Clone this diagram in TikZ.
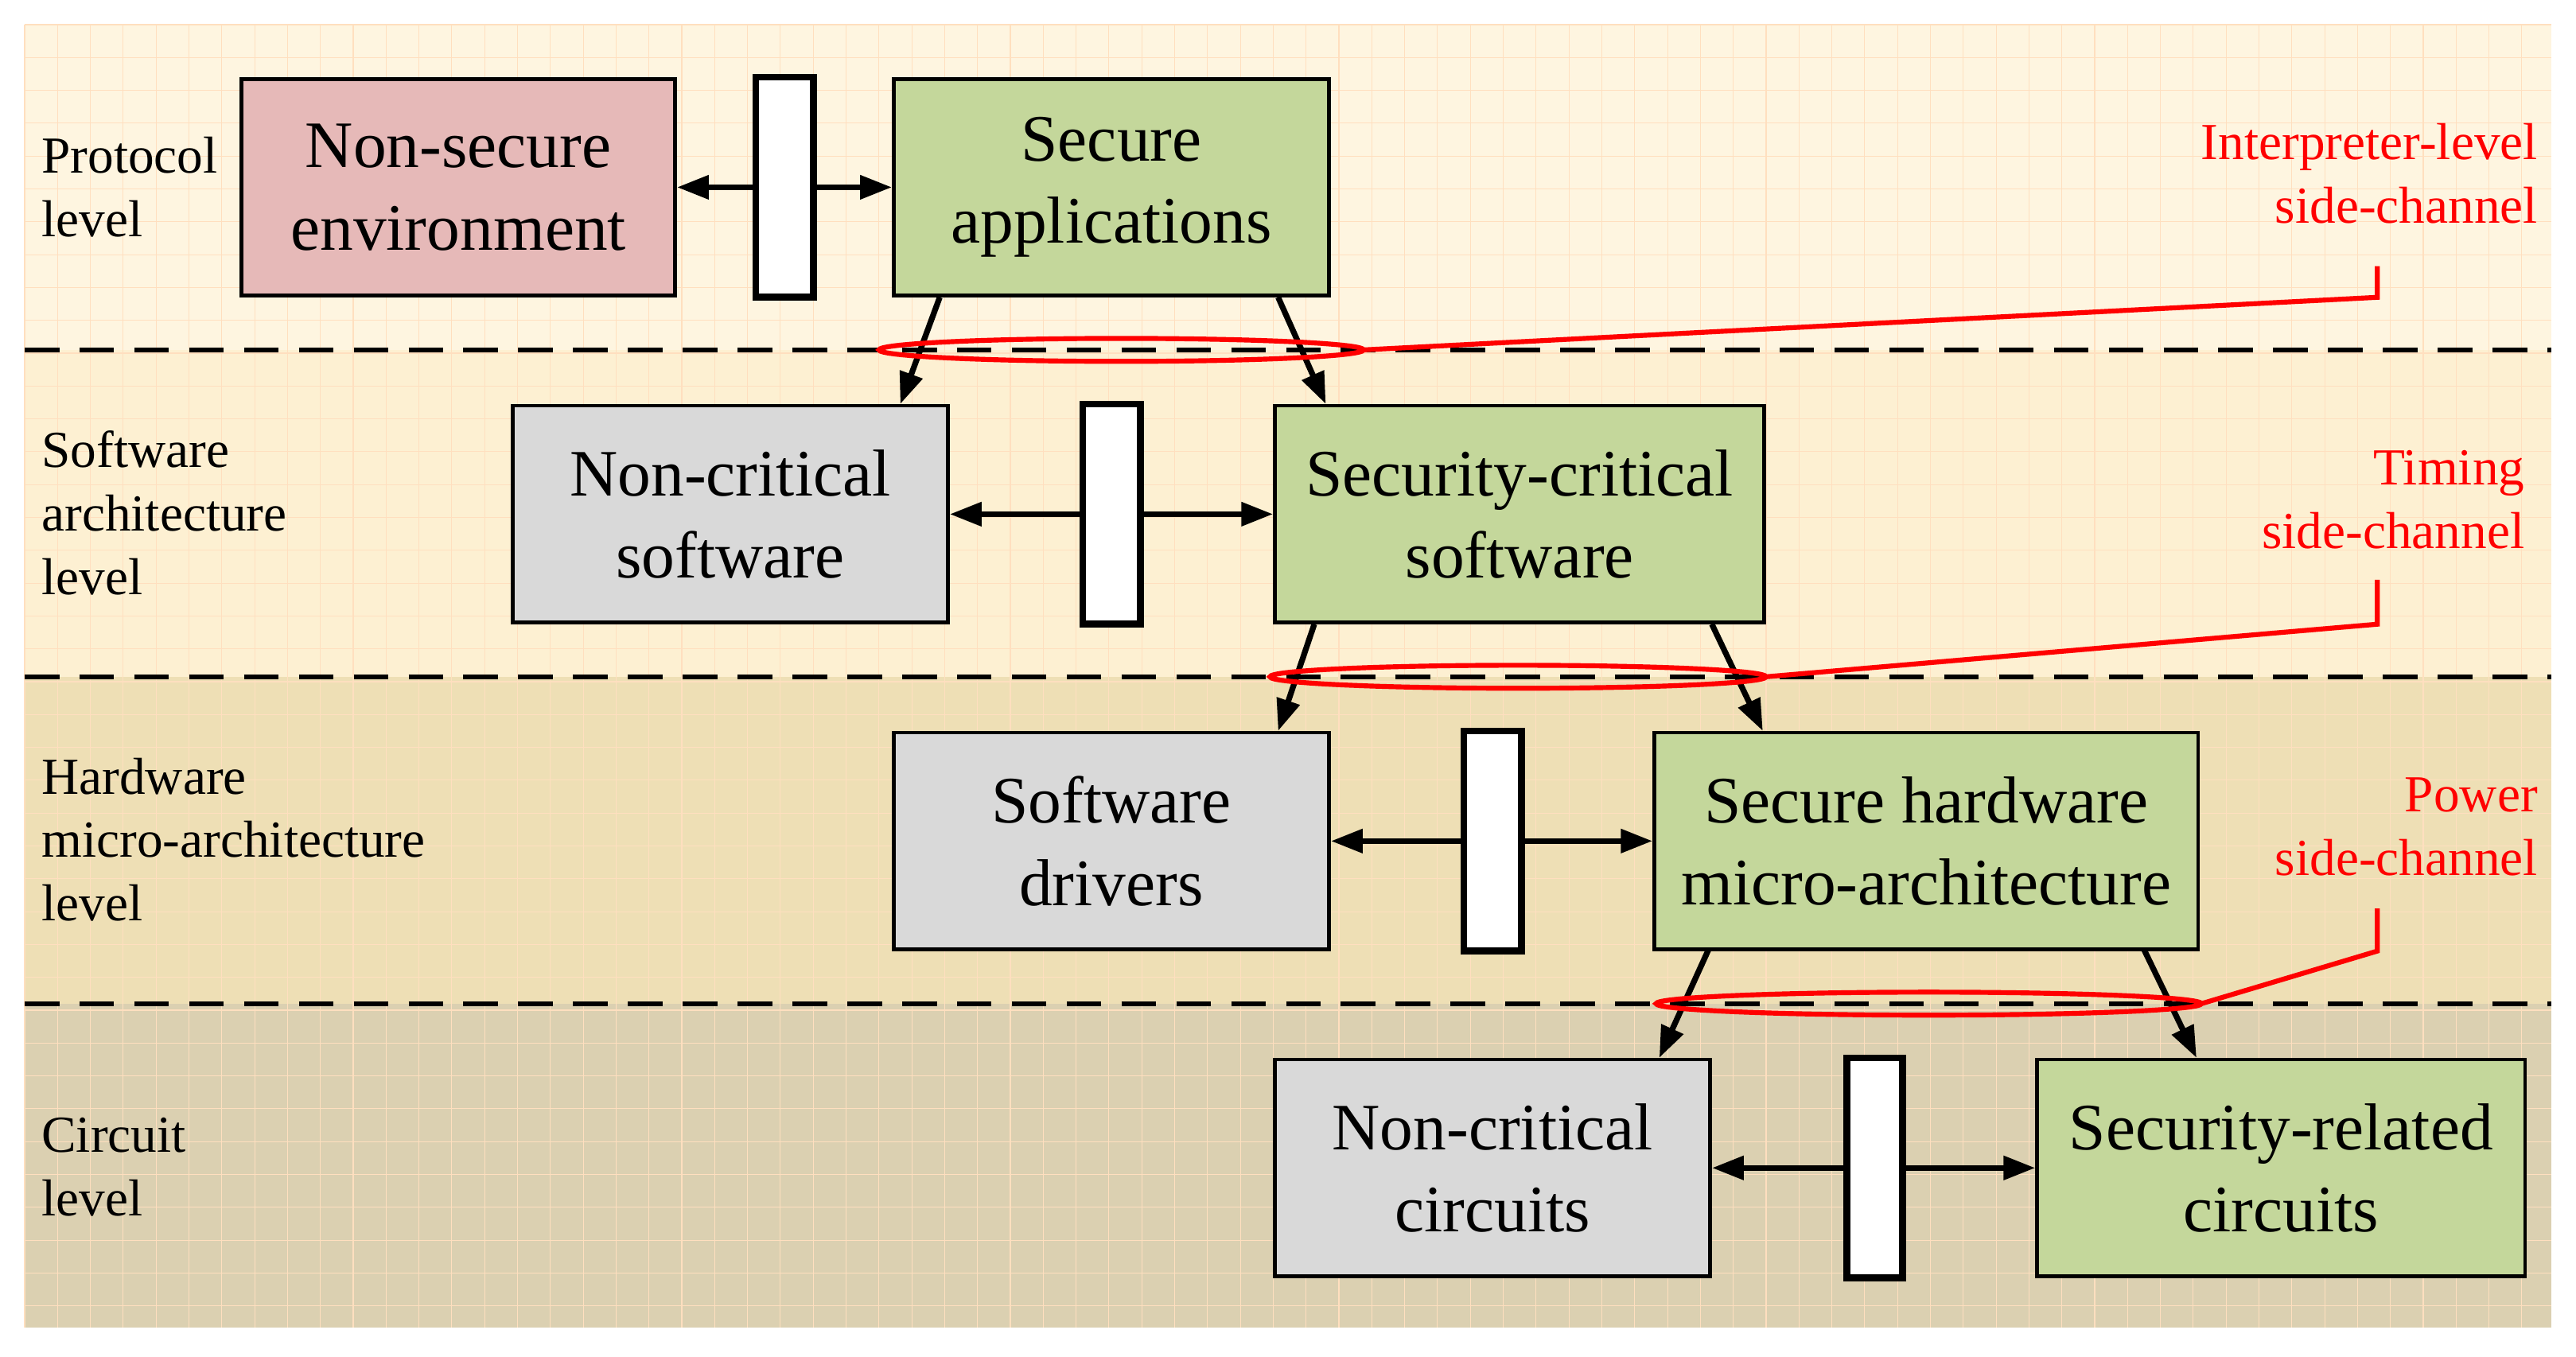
\documentclass[tikz,border=0pt]{standalone}
\usepackage{fontspec}
\setmainfont{Liberation Serif}
\usetikzlibrary{arrows.meta}
\definecolor{bA}{HTML}{FEF5E0}
\definecolor{bB}{HTML}{FDF0D2}
\definecolor{bC}{HTML}{EEDFB5}
\definecolor{bD}{HTML}{DBD0B1}
\definecolor{pinkb}{HTML}{E6B9B8}
\definecolor{greenb}{HTML}{C4D79B}
\definecolor{grayb}{HTML}{D9D9D9}
\begin{document}
\begin{tikzpicture}[x=0.02cm,y=-0.02cm,
  box/.style={draw=black,line width=1.3pt,align=center,inner sep=0pt,font=\fontsize{23}{28.5}\selectfont,execute at begin node={\vspace*{5pt}}},
  bar/.style={draw=black,fill=white,line width=2.4pt},
  arr/.style={line width=2pt,-{Triangle[length=11pt,width=8pt]}},
  darr/.style={line width=2pt,{Triangle[length=11pt,width=8pt]}-{Triangle[length=11pt,width=8pt]}},
  lvl/.style={anchor=north west,align=left,inner sep=0pt,font=\fontsize{18}{22}\selectfont},
  red/.style={anchor=north east,align=right,inner sep=0pt,text=red,font=\fontsize{18}{22}\selectfont},
  rl/.style={draw=red,line width=1.7pt},
  sep/.style={line width=1.8pt,dash pattern=on 12pt off 7pt}]
\useasboundingbox (0,0) rectangle (1568,826);
\fill[white] (0,0) rectangle (1568,826);
\fill[bA] (15,15) rectangle (1553,213);
\fill[bB] (15,213) rectangle (1553,412);
\fill[bC] (15,412) rectangle (1553,611);
\fill[bD] (15,611) rectangle (1553,808);
\foreach \x in {15,35,...,1553} {\draw[orange!25,line width=0.3pt] (\x,15) -- (\x,808);}
\foreach \y in {15,35,...,808} {\draw[orange!25,line width=0.3pt] (15,\y) -- (1553,\y);}
\draw[sep] (15,213) -- (1553,213);
\draw[sep] (15,412) -- (1553,412);
\draw[sep] (15,611) -- (1553,611);
% level labels
\node[lvl] (l1) at (25,83) {Protocol\\level};
\node[lvl] (l2) at (25,262) {Software\\architecture\\level};
\node[lvl] (l3) at (25,461) {Hardware\\micro-architecture\\level};
\node[lvl] (l4) at (25,680) {Circuit\\level};
% boxes
\node[box,fill=pinkb,minimum width=5.28cm,minimum height=2.64cm] (nse) at (279,114) {Non-secure\\environment};
\node[box,fill=greenb,minimum width=5.3cm,minimum height=2.64cm] (sa) at (676.5,114) {Secure\\applications};
\node[box,fill=grayb,minimum width=5.3cm,minimum height=2.64cm] (ncs) at (444.5,313) {Non-critical\\software};
\node[box,fill=greenb,minimum width=5.96cm,minimum height=2.64cm] (scs) at (925,313) {Security-critical\\software};
\node[box,fill=grayb,minimum width=5.3cm,minimum height=2.64cm] (sd) at (676.5,512) {Software\\drivers};
\node[box,fill=greenb,minimum width=6.62cm,minimum height=2.64cm] (shw) at (1172.5,512) {Secure hardware\\micro-architecture};
\node[box,fill=grayb,minimum width=5.3cm,minimum height=2.64cm] (ncc) at (908.5,711) {Non-critical\\circuits};
\node[box,fill=greenb,minimum width=5.94cm,minimum height=2.64cm] (src) at (1388.5,711) {Security-related\\circuits};
% horizontal arrows + barriers
\draw[darr] (nse.east) -- (sa.west);
\draw[darr] (ncs.east) -- (scs.west);
\draw[darr] (sd.east) -- (shw.west);
\draw[darr] (ncc.east) -- (src.west);
\draw[bar] (460,47) rectangle (495,181);
\draw[bar] (659,246) rectangle (694,380);
\draw[bar] (891,445) rectangle (926,579);
\draw[bar] (1124,644) rectangle (1158,778);
% diagonal arrows
\coordinate (a1) at (572,181); \coordinate (b1) at (548,246);
\coordinate (a2) at (778,181); \coordinate (b2) at (807,246);
\coordinate (a3) at (800,380); \coordinate (b3) at (778,445);
\coordinate (a4) at (1042,380); \coordinate (b4) at (1073,445);
\coordinate (a5) at (1040,578); \coordinate (b5) at (1010,644);
\coordinate (a6) at (1305,578); \coordinate (b6) at (1337,644);
\foreach \i in {1,...,6} {\draw[arr] (a\i) -- (b\i);}
% ellipses and callouts
\draw[rl] (682.5,213) ellipse [x radius=147.5, y radius=7];
\draw[rl] (924,412) ellipse [x radius=151, y radius=7];
\draw[rl] (1174,611) ellipse [x radius=166, y radius=7];
\coordinate (e1) at (830,213); \coordinate (e2) at (1075,412); \coordinate (e3) at (1340,611);
\draw[rl] (e1) -- (1447,181) -- (1447,162);
\draw[rl] (e2) -- (1447,380) -- (1447,353);
\draw[rl] (e3) -- (1447,579) -- (1447,553);
\node[red] (t1) at (1545,75) {Interpreter-level\\side-channel};
\node[red] (t2) at (1537,274) {Timing\\side-channel};
\node[red] (t3) at (1545,473) {Power\\side-channel};
\end{tikzpicture}
\end{document}
